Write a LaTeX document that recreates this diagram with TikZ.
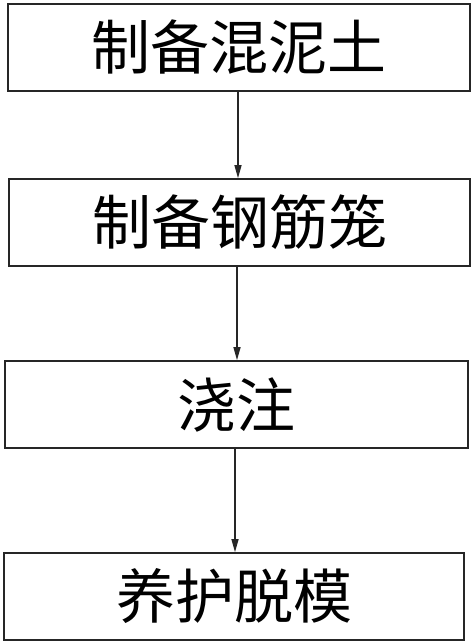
\documentclass[tikz,border=0pt]{standalone}
\usepackage{fontspec}
\newfontfamily\cjk{Noto Sans CJK SC}
\usetikzlibrary{arrows.meta}
\begin{document}
\begin{tikzpicture}[x=1pt,y=-1pt,
  stepbox/.style={draw=black!85,line width=1.6pt,minimum height=87pt,inner sep=0pt,font=\cjk\fontsize{59}{62}\selectfont},
  conn/.style={draw=black!85,line width=1.3pt,-{Triangle[length=13pt,width=7pt]}}]
\useasboundingbox (0,0) rectangle (474,644);
\node[stepbox,minimum width=462pt] (a) at (239,47.5) {制备混泥土};
\node[stepbox,minimum width=461pt] (b) at (239.5,222.5) {制备钢筋笼};
\node[stepbox,minimum width=463pt] (c) at (236.5,404.5) {浇注};
\node[stepbox,minimum width=460pt] (d) at (234,596.5) {养护脱模};
\draw[conn] (a.south -| 238,0) -- (b.north -| 238,0);
\draw[conn] (b.south -| 237,0) -- (c.north -| 237,0);
\draw[conn] (c.south -| 235,0) -- (d.north -| 235,0);
\end{tikzpicture}
\end{document}
